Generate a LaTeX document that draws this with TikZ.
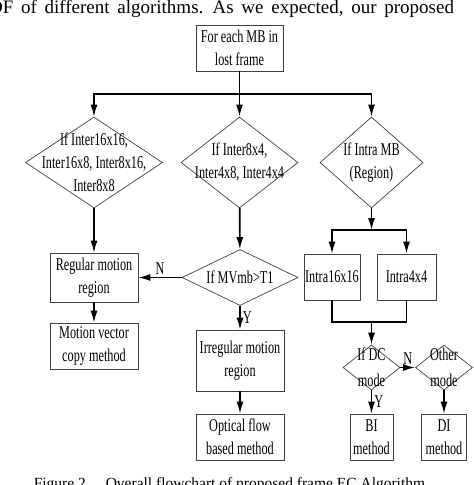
\documentclass[tikz,border=0pt]{standalone}
\usepackage{fontspec}
\setmainfont{Liberation Serif}
\newfontfamily\chartfont{Liberation Serif}[FakeStretch=0.68]
\usetikzlibrary{arrows.meta, shapes.geometric}

\begin{document}
\begin{tikzpicture}[x=1pt,y=-1pt,->,>={Latex[length=12pt,width=7pt]},line width=1.6pt,
  box node/.style={rectangle,draw=black!75,line width=0.7pt,inner sep=0pt,align=center,font=\chartfont\fontsize{18}{23}\selectfont},
  dia node/.style={diamond,draw=black!75,line width=0.7pt,inner sep=0pt},
  text node/.style={inner sep=0pt,align=center,font=\chartfont\fontsize{18}{23}\selectfont}]
  \useasboundingbox (0,0) rectangle (474,485);
  \clip (0,0) rectangle (474,485);

  % text of the page round the figure
  \node[anchor=base west,inner sep=0pt,font=\fontsize{19}{23}\selectfont] (16) at (-11.7,13.5) {\spaceskip 7.7pt\relax DF of different algorithms. As we expected, our proposed};
  \node[anchor=base west,inner sep=0pt,font=\fontsize{15.5}{18}\selectfont] (17) at (33,488) {Figure 2.\hspace{16pt}Overall flowchart of proposed frame EC Algorithm};

  \node[box node,minimum width=87pt,minimum height=46pt] (1) at (239.5,48) {For each MB in\\lost frame};

  %1
  \node[dia node,minimum width=137pt,minimum height=91pt] (2) at (94,162.5) {};
  \node[text node] (2t) at (2) {If Inter16x16,\\Inter16x8, Inter8x16,\\Inter8x8};
  %2
  \node[dia node,minimum width=117pt,minimum height=91pt] (3) at (239.5,162.5) {};
  \node[text node] (3t) at (3) {If Inter8x4,\\Inter4x8, Inter4x4};
  %3
  \node[dia node,minimum width=103pt,minimum height=91pt] (4) at (371.5,162.5) {};
  \node[text node] (4t) at (4) {If Intra MB\\(Region)};

  %1
  \node[box node,minimum width=88pt,minimum height=49pt] (5) at (94,277.5) {Regular motion\\region};
  \node[box node,minimum width=88pt,minimum height=46pt] (6) at (94,346) {Motion vector\\copy method};

  %2
  \node[dia node,minimum width=116pt,minimum height=56pt] (7) at (240,277.5) {};
  \node[text node] (7t) at (7) {If MVmb>T1};
  \node[box node,minimum width=88pt,minimum height=61pt] (8) at (240,360.5) {Irregular motion\\region};
  \node[box node,minimum width=88pt,minimum height=46pt] (9) at (240,437) {Optical flow\\based method};

  %3
  \node[box node,minimum width=56pt,minimum height=46pt] (10) at (332,277) {Intra16x16};
  \node[box node,minimum width=59pt,minimum height=46pt] (11) at (406.5,277) {Intra4x4};
  \node[dia node,minimum width=57pt,minimum height=45pt] (12) at (371.5,367.5) {};
  \node[text node] (12t) at (12) {If DC\\[3pt]mode};
  \node[dia node,minimum width=57pt,minimum height=45pt] (13) at (444,367.5) {};
  \node[text node] (13t) at (13) {Other\\[3pt]mode};
  \node[box node,minimum width=43pt,minimum height=46pt] (14) at (371.5,437) {BI\\method};
  \node[box node,minimum width=45pt,minimum height=46pt] (15) at (444,437) {DI\\method};

  \coordinate (s1) at (239.5,94);
  \coordinate (s2) at (371.5,230);
  \coordinate (s3) at (371.5,322);

  \draw (1) -- (3);
  \draw (s1) -| (2.north);
  \draw (s1) -| (4.north);
  \draw (4) -- (s2);
  \draw (s2) -| (10.north);
  \draw (s2) -| (11.north);
  \draw[-] (10.south) |- (s3) -| (11.south);
  \draw (s3) -- (12);

  \path[every node/.style={text node,inner sep=2pt}]
    (2) edge (5)
    (5) edge (6)
    (3) edge (7)
    (7) edge node[above] {N} (5)
        edge node[right] {Y} (8)
    (8) edge (9)
    (12) edge node[above] {N} (13)
         edge node[right] {Y} (14)
    (13) edge (15);
\end{tikzpicture}
\end{document}
